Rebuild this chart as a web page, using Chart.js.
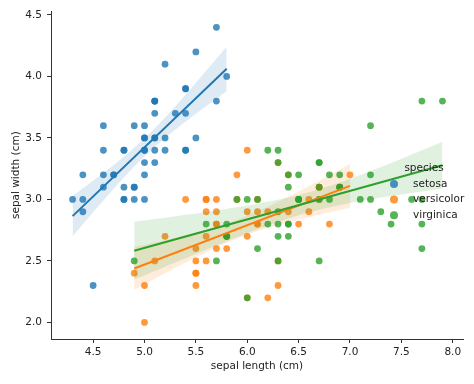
<!DOCTYPE html>
<html>
<head>
<meta charset="utf-8">
<script src="https://cdn.jsdelivr.net/npm/chart.js@4.4.0/dist/chart.umd.min.js"></script>
<style>
  html, body { margin: 0; padding: 0; background: #fff; }
  #wrap { width: 474px; height: 384px; }
</style>
</head>
<body>
<div id="wrap"><canvas id="myChart"></canvas></div>
<script>
// iris: sepal length / sepal width per species
const species = ['setosa', 'versicolor', 'virginica'];
const colors = ['31, 119, 180', '255, 127, 14', '44, 160, 44'];

const setosaLength = [5.1,4.9,4.7,4.6,5.0,5.4,4.6,5.0,4.4,4.9,5.4,4.8,4.8,4.3,5.8,5.7,5.4,5.1,5.7,5.1,5.4,5.1,4.6,5.1,4.8,5.0,5.0,5.2,5.2,4.7,4.8,5.4,5.2,5.5,4.9,5.0,5.5,4.9,4.4,5.1,5.0,4.5,4.4,5.0,5.1,4.8,5.1,4.6,5.3,5.0];
const setosaWidth  = [3.5,3.0,3.2,3.1,3.6,3.9,3.4,3.4,2.9,3.1,3.7,3.4,3.0,3.0,4.0,4.4,3.9,3.5,3.8,3.8,3.4,3.7,3.6,3.3,3.4,3.0,3.4,3.5,3.4,3.2,3.1,3.4,4.1,4.2,3.1,3.2,3.5,3.6,3.0,3.4,3.5,2.3,3.2,3.5,3.8,3.0,3.8,3.2,3.7,3.3];

const versicolorLength = [7.0,6.4,6.9,5.5,6.5,5.7,6.3,4.9,6.6,5.2,5.0,5.9,6.0,6.1,5.6,6.7,5.6,5.8,6.2,5.6,5.9,6.1,6.3,6.1,6.4,6.6,6.8,6.7,6.0,5.7,5.5,5.5,5.8,6.0,5.4,6.0,6.7,6.3,5.6,5.5,5.5,6.1,5.8,5.0,5.6,5.7,5.7,6.2,5.1,5.7];
const versicolorWidth  = [3.2,3.2,3.1,2.3,2.8,2.8,3.3,2.4,2.9,2.7,2.0,3.0,2.2,2.9,2.9,3.1,3.0,2.7,2.2,2.5,3.2,2.8,2.5,2.8,2.9,3.0,2.8,3.0,2.9,2.6,2.4,2.4,2.7,2.7,3.0,3.4,3.1,2.3,3.0,2.5,2.6,3.0,2.6,2.3,2.7,3.0,2.9,2.9,2.5,2.8];

const virginicaLength = [6.3,5.8,7.1,6.3,6.5,7.6,4.9,7.3,6.7,7.2,6.5,6.4,6.8,5.7,5.8,6.4,6.5,7.7,7.7,6.0,6.9,5.6,7.7,6.3,6.7,7.2,6.2,6.1,6.4,7.2,7.4,7.9,6.4,6.3,6.1,7.7,6.3,6.4,6.0,6.9,6.7,6.9,5.8,6.8,6.7,6.7,6.3,6.5,6.2,5.9];
const virginicaWidth  = [3.3,2.7,3.0,2.9,3.0,3.0,2.5,2.9,2.5,3.6,3.2,2.7,3.0,2.5,2.8,3.2,3.0,3.8,2.6,2.2,3.2,2.8,2.8,2.7,3.3,3.2,2.8,3.0,2.8,3.0,2.8,3.8,2.8,2.8,2.6,3.0,3.4,3.1,3.0,3.1,3.1,3.1,2.7,3.2,3.3,3.0,2.5,3.0,3.4,3.0];

const xTicks = [4.5, 5.0, 5.5, 6.0, 6.5, 7.0, 7.5, 8.0];
const yTicks = [2.0, 2.5, 3.0, 3.5, 4.0, 4.5];

const lengths = [setosaLength, versicolorLength, virginicaLength];
const widths = [setosaWidth, versicolorWidth, virginicaWidth];

// ordinary least squares + 95% band for the mean
function fit(xs, ys) {
  const n = xs.length;
  const mx = xs.reduce((a, b) => a + b, 0) / n;
  const my = ys.reduce((a, b) => a + b, 0) / n;
  let sxx = 0, sxy = 0;
  xs.forEach((x, i) => { sxx += (x - mx) ** 2; sxy += (x - mx) * (ys[i] - my); });
  const b = sxy / sxx, a = my - b * mx;
  let sse = 0;
  xs.forEach((x, i) => { sse += (ys[i] - a - b * x) ** 2; });
  const s = Math.sqrt(sse / (n - 2));
  return { a, b, s, n, mx, sxx, lo: Math.min(...xs), hi: Math.max(...xs) };
}

const layers = []; // in matplotlib draw order
const lines = [];
species.forEach((name, k) => {
  const c = colors[k];
  const f = fit(lengths[k], widths[k]);
  layers.push({
    type: 'scatter',
    data: lengths[k].map((x, i) => ({ x, y: widths[k][i] })),
    backgroundColor: `rgba(${c}, 0.8)`,
    borderWidth: 0,
    pointRadius: 3.4,
    pointHoverRadius: 3.4
  });
  const steps = 60;
  const up = [], dn = [];
  for (let j = 0; j <= steps; j++) {
    const x = f.lo + (f.hi - f.lo) * j / steps;
    const yh = f.a + f.b * x;
    const half = 2.01 * f.s * Math.sqrt(1 / f.n + (x - f.mx) ** 2 / f.sxx);
    up.push({ x, y: yh + half });
    dn.push({ x, y: yh - half });
  }
  layers.push({ type: 'line', data: up, borderWidth: 0, pointRadius: 0, fill: false, _band: true });
  layers.push({ type: 'line', data: dn, borderWidth: 0, pointRadius: 0, fill: '-1',
                backgroundColor: `rgba(${c}, 0.15)`, _band: true });
  lines.push({
    type: 'line',
    data: [{ x: f.lo, y: f.a + f.b * f.lo }, { x: f.hi, y: f.a + f.b * f.hi }],
    borderColor: `rgb(${c})`,
    borderWidth: 2,
    pointRadius: 0,
    fill: false
  });
});
const datasets = layers.concat(lines).map((d, i) => Object.assign(d, { order: 100 - i }));

const legendBox = {
  id: 'legendBox',
  afterDraw(chart) {
    const { ctx } = chart;
    ctx.save();
    ctx.font = '10.5px "DejaVu Sans"';
    ctx.fillStyle = '#222';
    ctx.textBaseline = 'middle';
    ctx.textAlign = 'center';
    ctx.fillText('species', 424, 168);
    ctx.textAlign = 'left';
    species.forEach((name, k) => {
      const y = 184 + k * 15.6;
      ctx.beginPath();
      ctx.arc(394, y, 4, 0, Math.PI * 2);
      ctx.fillStyle = `rgba(${colors[k]}, 0.8)`;
      ctx.fill();
      ctx.fillStyle = '#222';
      ctx.fillText(name, 413, y);
    });
    ctx.restore();
  }
};

const ctx = document.getElementById('myChart');
new Chart(ctx, {
  type: 'scatter',
  data: { datasets },
  options: {
    responsive: true,
    maintainAspectRatio: false,
    animation: false,
    layout: { padding: { left: 0, right: 11, top: 11, bottom: 0 } },
    plugins: {
      legend: { display: false },
      tooltip: { enabled: false },
      filler: { propagate: false }
    },
    scales: {
      x: {
        type: 'linear',
        min: 4.09,
        max: 8.1,
        afterBuildTicks: s => { s.ticks = xTicks.map(v => ({ value: v })); },
        afterFit: s => { s.height = 45; },
        ticks: {
          callback: v => v.toFixed(1),
          font: { size: 10.5, family: 'DejaVu Sans' },
          color: '#222',
          padding: 3,
          maxRotation: 0
        },
        grid: { display: true, drawOnChartArea: false, tickLength: 4, color: '#333' },
        border: { display: true, color: '#333', width: 1 },
        title: {
          display: true,
          text: 'sepal length (cm)',
          font: { size: 10.5, family: 'DejaVu Sans' },
          color: '#222',
          padding: { top: 4, bottom: 11 }
        }
      },
      y: {
        type: 'linear',
        min: 1.865,
        max: 4.53,
        afterBuildTicks: s => { s.ticks = yTicks.map(v => ({ value: v })); },
        afterFit: s => { s.width = 51; },
        ticks: {
          callback: v => v.toFixed(1),
          font: { size: 10.5, family: 'DejaVu Sans' },
          color: '#222',
          padding: 5
        },
        grid: { display: true, drawOnChartArea: false, tickLength: 4, color: '#333' },
        border: { display: true, color: '#333', width: 1 },
        title: {
          display: true,
          text: 'sepal width (cm)',
          font: { size: 10.5, family: 'DejaVu Sans' },
          color: '#222',
          padding: { top: 10, bottom: 4 }
        }
      }
    }
  },
  plugins: [legendBox]
});
</script>
</body>
</html>
